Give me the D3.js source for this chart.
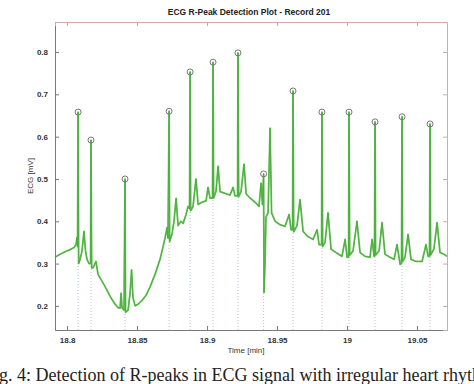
<!DOCTYPE html>
<html>
<head>
<meta charset="utf-8">
<title>ECG R-Peak Detection Plot</title>
<script src="https://cdn.jsdelivr.net/npm/d3@7/dist/d3.min.js"></script>
<style>
  body { margin: 0; background: #fff; }
  svg text { font-family: "Liberation Sans", Arial, sans-serif; }
</style>
</head>
<body>
<script>
// ECG trace: [time (min), voltage (mV)]
var signal = [
  [18.7914,0.315],[18.7950,0.322],[18.7986,0.328],[18.8021,0.333],[18.8050,0.338],
  [18.8064,0.345],[18.8071,0.362],[18.8075,0.340],[18.8079,0.658],[18.8083,0.300],
  [18.8093,0.310],[18.8107,0.330],[18.8121,0.376],[18.8132,0.330],[18.8143,0.310],
  [18.8157,0.300],[18.8168,0.300],[18.8171,0.592],[18.8176,0.290],[18.8186,0.290],
  [18.8207,0.305],[18.8221,0.275],[18.8243,0.262],[18.8271,0.246],[18.8307,0.223],
  [18.8343,0.204],[18.8364,0.196],[18.8379,0.195],[18.8386,0.230],[18.8393,0.195],
  [18.8407,0.190],[18.8414,0.500],[18.8418,0.185],[18.8436,0.190],[18.8450,0.230],
  [18.8461,0.285],[18.8471,0.220],[18.8486,0.200],[18.8507,0.204],[18.8536,0.213],
  [18.8564,0.225],[18.8593,0.245],[18.8629,0.275],[18.8664,0.310],[18.8686,0.340],
  [18.8700,0.360],[18.8714,0.385],[18.8721,0.360],[18.8729,0.660],[18.8733,0.352],
  [18.8750,0.370],[18.8764,0.400],[18.8779,0.454],[18.8793,0.390],[18.8814,0.400],
  [18.8829,0.395],[18.8850,0.416],[18.8864,0.435],[18.8875,0.430],[18.8879,0.753],
  [18.8883,0.425],[18.8900,0.435],[18.8921,0.500],[18.8936,0.440],[18.8964,0.445],
  [18.8993,0.448],[18.9007,0.480],[18.9021,0.455],[18.9039,0.455],[18.9043,0.776],
  [18.9047,0.455],[18.9064,0.470],[18.9079,0.530],[18.9093,0.470],[18.9129,0.466],
  [18.9164,0.462],[18.9186,0.480],[18.9200,0.460],[18.9218,0.460],[18.9221,0.798],
  [18.9226,0.458],[18.9243,0.470],[18.9264,0.535],[18.9279,0.465],[18.9307,0.455],
  [18.9343,0.445],[18.9371,0.435],[18.9386,0.490],[18.9396,0.440],[18.9404,0.512],
  [18.9407,0.232],[18.9414,0.300],[18.9421,0.410],[18.9436,0.420],[18.9450,0.620],
  [18.9461,0.420],[18.9486,0.400],[18.9521,0.392],[18.9557,0.388],[18.9586,0.416],
  [18.9600,0.380],[18.9611,0.380],[18.9614,0.708],[18.9619,0.375],[18.9643,0.390],
  [18.9664,0.451],[18.9686,0.376],[18.9721,0.364],[18.9757,0.357],[18.9786,0.380],
  [18.9800,0.345],[18.9818,0.345],[18.9821,0.658],[18.9826,0.340],[18.9843,0.350],
  [18.9864,0.420],[18.9886,0.334],[18.9921,0.326],[18.9964,0.317],[18.9986,0.357],
  [19.0000,0.315],[19.0011,0.315],[19.0014,0.658],[19.0019,0.320],[19.0043,0.330],
  [19.0071,0.400],[19.0093,0.326],[19.0129,0.317],[19.0164,0.315],[19.0179,0.357],
  [19.0193,0.317],[19.0196,0.317],[19.0200,0.635],[19.0204,0.320],[19.0229,0.330],
  [19.0250,0.397],[19.0271,0.322],[19.0307,0.315],[19.0336,0.310],[19.0357,0.345],
  [19.0379,0.298],[19.0389,0.300],[19.0393,0.647],[19.0397,0.305],[19.0414,0.315],
  [19.0436,0.369],[19.0457,0.310],[19.0493,0.305],[19.0536,0.305],[19.0564,0.345],
  [19.0579,0.317],[19.0589,0.317],[19.0593,0.630],[19.0597,0.320],[19.0621,0.335],
  [19.0643,0.397],[19.0664,0.326],[19.0693,0.322],[19.0714,0.317]
];

// detected R peaks
var peakTimes  = [18.8079, 18.8171, 18.8414, 18.8729, 18.8879, 18.9043, 18.9221,
                  18.9404, 18.9614, 18.9821, 19.0014, 19.0200, 19.0393, 19.0593];
var peakValues = [0.658, 0.592, 0.500, 0.660, 0.753, 0.776, 0.798,
                  0.512, 0.708, 0.658, 0.658, 0.635, 0.647, 0.630];

var xTicks = [18.8, 18.85, 18.9, 18.95, 19, 19.05];
var yTicks = [0.2, 0.3, 0.4, 0.5, 0.6, 0.7, 0.8];
var xDomain = [18.7914, 19.0714];
var yDomain = [0.143, 0.871];

var W = 474, H = 384;
var margin = {left: 55, right: 27, top: 22, bottom: 54};
var w = W - margin.left - margin.right;
var h = H - margin.top - margin.bottom;

var x = d3.scaleLinear().domain(xDomain).range([0, w]);
var y = d3.scaleLinear().domain(yDomain).range([h, 0]);

var svg = d3.select("body").append("svg")
    .attr("width", W).attr("height", H);

var g = svg.append("g")
    .attr("transform", "translate(" + margin.left + "," + margin.top + ")");

// dotted markers at each detected peak
g.selectAll(".vline").data(peakTimes).enter().append("line")
    .attr("x1", function(d){ return x(d); })
    .attr("x2", function(d){ return x(d); })
    .attr("y1", h)
    .attr("y2", function(d, i){ return y(peakValues[i]); })
    .attr("stroke", function(d, i){ return i % 2 ? "#e2b4b0" : "#a9c2da"; })
    .attr("stroke-width", 1)
    .attr("stroke-dasharray", "1,2");

// the ECG line
var line = d3.line()
    .x(function(d){ return x(d[0]); })
    .y(function(d){ return y(d[1]); });

g.append("path").datum(signal)
    .attr("d", line)
    .attr("fill", "none")
    .attr("stroke", "#6cc25a")
    .attr("stroke-width", 1.8)
    .attr("stroke-linejoin", "round");

g.append("path").datum(signal)
    .attr("d", line)
    .attr("fill", "none")
    .attr("stroke", "#3fa838")
    .attr("stroke-width", 0.7);

// circles on the peaks
g.selectAll(".pk").data(peakTimes).enter().append("circle")
    .attr("cx", function(d){ return x(d); })
    .attr("cy", function(d, i){ return y(peakValues[i]); })
    .attr("r", 3)
    .attr("fill", "none")
    .attr("stroke", "#777")
    .attr("stroke-width", 1);

// axes, matlab style: ticks pointing inward, on all four sides
var xAxis = d3.axisBottom(x).tickValues(xTicks).tickSize(-4).tickPadding(7)
    .tickFormat(function(d){ return String(+d.toFixed(2)); });
var yAxis = d3.axisLeft(y).tickValues(yTicks).tickSize(-4).tickPadding(7)
    .tickFormat(d3.format(".1f"));

var gx = g.append("g").attr("transform", "translate(0," + h + ")").call(xAxis);
var gy = g.append("g").call(yAxis);
var gx2 = g.append("g").call(d3.axisTop(x).tickValues(xTicks).tickSize(-4).tickFormat(""));
var gy2 = g.append("g").attr("transform", "translate(" + w + ",0)")
    .call(d3.axisRight(y).tickValues(yTicks).tickSize(-4).tickFormat(""));

[gx, gy].forEach(function(a){
  a.selectAll("path").attr("stroke", "#7a7a7a");
  a.selectAll("line").attr("stroke", "#7a7a7a");
  a.selectAll("text").attr("fill", "#333").style("font-size", "8px").style("font-weight", "bold");
});
[gx2, gy2].forEach(function(a){
  a.selectAll("path").attr("stroke", "#d3aaa4");
  a.selectAll("line").attr("stroke", "#c9a8a4");
});

// titles
svg.append("text")
    .attr("x", margin.left + w / 2 - 2).attr("y", 15)
    .attr("text-anchor", "middle")
    .style("font-size", "8.5px").style("font-weight", "bold").attr("fill", "#222")
    .text("ECG R-Peak Detection Plot - Record 201");

svg.append("text")
    .attr("x", margin.left + w / 2 - 5).attr("y", 353)
    .attr("text-anchor", "middle")
    .style("font-size", "8px").attr("fill", "#333")
    .text("Time [min]");

svg.append("text")
    .attr("transform", "translate(33," + (margin.top + 154) + ") rotate(-90)")
    .attr("text-anchor", "middle")
    .style("font-size", "8px").attr("fill", "#333")
    .text("ECG [mV]");

// figure caption, cut by the image edge as in the source
svg.append("text")
    .attr("x", -16).attr("y", 381)
    .style("font-family", "'Liberation Serif', 'DejaVu Serif', serif")
    .style("font-size", "18px").attr("fill", "#222")
    .text("Fig. 4: Detection of R-peaks in ECG signal with irregular heart rhythm");
</script>
</body>
</html>
